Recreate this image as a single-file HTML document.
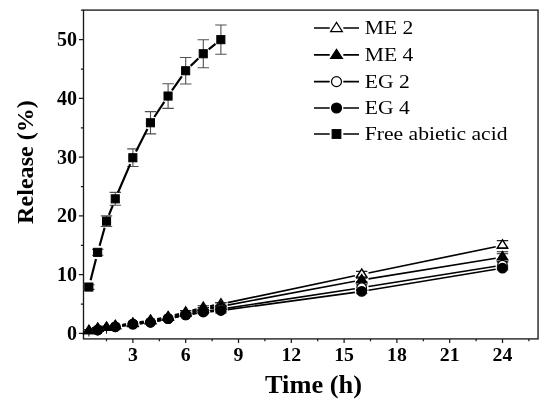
<!DOCTYPE html>
<html><head><meta charset="utf-8"><title>Release</title>
<style>
html,body{margin:0;padding:0;background:#fff;}
body{width:550px;height:403px;overflow:hidden;}
svg{display:block;}
text{font-family:"Liberation Serif",serif;fill:#000;}
.b{font-weight:bold;}
</style></head><body>
<svg width="550" height="403" viewBox="0 0 550 403">
<rect width="550" height="403" fill="#fff"/>

<rect x="83.5" y="10.1" width="454.55" height="328.80" fill="none" stroke="#1a1a1a" stroke-width="1.35"/>
<path d="M83.5 333.4h-4.6 M83.5 304.1h-2.6 M83.5 274.7h-4.6 M83.5 245.3h-2.6 M83.5 215.9h-4.6 M83.5 186.5h-2.6 M83.5 157.1h-4.6 M83.5 127.8h-2.6 M83.5 98.4h-4.6 M83.5 69.0h-2.6 M83.5 39.6h-4.6 M83.5 10.2h-2.6 M106.5 338.9v2.4 M132.9 338.9v4.2 M159.3 338.9v2.4 M185.7 338.9v4.2 M212.1 338.9v2.4 M238.5 338.9v4.2 M264.9 338.9v2.4 M291.3 338.9v4.2 M317.7 338.9v2.4 M344.1 338.9v4.2 M370.5 338.9v2.4 M396.9 338.9v4.2 M423.3 338.9v2.4 M449.7 338.9v4.2 M476.1 338.9v2.4 M502.5 338.9v4.2 M528.9 338.9v2.4" stroke="#1a1a1a" stroke-width="1.25" fill="none"/>
<text class="b" x="76.9" y="339.9" font-size="20.0" text-anchor="end">0</text>
<text class="b" x="76.9" y="281.2" font-size="20.0" text-anchor="end">10</text>
<text class="b" x="76.9" y="222.4" font-size="20.0" text-anchor="end">20</text>
<text class="b" x="76.9" y="163.6" font-size="20.0" text-anchor="end">30</text>
<text class="b" x="76.9" y="104.9" font-size="20.0" text-anchor="end">40</text>
<text class="b" x="76.9" y="46.1" font-size="20.0" text-anchor="end">50</text>
<text class="b" x="132.9" y="360.75" font-size="19.8" text-anchor="middle">3</text>
<text class="b" x="185.7" y="360.75" font-size="19.8" text-anchor="middle">6</text>
<text class="b" x="238.5" y="360.75" font-size="19.8" text-anchor="middle">9</text>
<text class="b" x="291.3" y="360.75" font-size="19.8" text-anchor="middle">12</text>
<text class="b" x="344.1" y="360.75" font-size="19.8" text-anchor="middle">15</text>
<text class="b" x="396.9" y="360.75" font-size="19.8" text-anchor="middle">18</text>
<text class="b" x="449.7" y="360.75" font-size="19.8" text-anchor="middle">21</text>
<text class="b" x="502.5" y="360.75" font-size="19.8" text-anchor="middle">24</text>
<text class="b" x="313.5" y="392.5" font-size="24.5" text-anchor="middle" textLength="97" lengthAdjust="spacingAndGlyphs">Time (h)</text>
<text class="b" transform="translate(32.5 162) rotate(-90)" font-size="24.1" text-anchor="middle">Release (%)</text>
<path d="M88.9 331V336.6M106.5 330V333.8M496.8 253.8h11.4" stroke="#222" stroke-width="1.1"/>
<path d="M88.9 329.7V332.0M83.2 329.7h11.4M83.2 332.0h11.4 M97.7 327.5V329.8M92.0 327.5h11.4M92.0 329.8h11.4 M106.5 326.4V328.7M100.8 326.4h11.4M100.8 328.7h11.4 M185.7 310.5V314.1M180.0 310.5h11.4M180.0 314.1h11.4 M203.3 305.7V309.2M197.6 305.7h11.4M197.6 309.2h11.4 M220.9 302.8V305.4M215.2 302.8h11.4M215.2 305.4h11.4 M361.7 271.4V277.3M356.0 271.4h11.4M356.0 277.3h11.4 M502.5 240.6V248.5M496.8 240.6h11.4M496.8 248.5h11.4" stroke="#222" stroke-width="1.1" fill="none"/>
<path d="M122.1 325.0L126.1 324.4 M139.7 322.3L143.7 321.6 M157.3 319.0L161.3 318.2 M174.8 315.1L179.0 314.0 M192.4 310.5L196.6 309.3 M210.1 306.2L214.1 305.4" stroke="#000" stroke-width="2.15" fill="none"/>
<path d="M227.7 302.6L354.9 275.8 M368.5 273.0L495.7 246.7" stroke="#000" stroke-width="1.65" fill="none"/>
<path d="M88.9 325.5L94.1 333.6H83.7Z" fill="#fff" stroke="#000" stroke-width="1.4" stroke-linejoin="miter"/>
<path d="M97.7 323.2L102.9 331.3H92.5Z" fill="#fff" stroke="#000" stroke-width="1.4" stroke-linejoin="miter"/>
<path d="M106.5 322.2L111.7 330.3H101.3Z" fill="#fff" stroke="#000" stroke-width="1.4" stroke-linejoin="miter"/>
<path d="M115.3 320.5L120.5 328.6H110.1Z" fill="#fff" stroke="#000" stroke-width="1.4" stroke-linejoin="miter"/>
<path d="M132.9 318.1L138.1 326.2H127.7Z" fill="#fff" stroke="#000" stroke-width="1.4" stroke-linejoin="miter"/>
<path d="M150.5 315.0L155.7 323.1H145.3Z" fill="#fff" stroke="#000" stroke-width="1.4" stroke-linejoin="miter"/>
<path d="M168.1 311.5L173.3 319.6H162.9Z" fill="#fff" stroke="#000" stroke-width="1.4" stroke-linejoin="miter"/>
<path d="M185.7 306.9L190.9 315.0H180.5Z" fill="#fff" stroke="#000" stroke-width="1.4" stroke-linejoin="miter"/>
<path d="M203.3 302.1L208.5 310.2H198.1Z" fill="#fff" stroke="#000" stroke-width="1.4" stroke-linejoin="miter"/>
<path d="M220.9 298.7L226.1 306.8H215.7Z" fill="#fff" stroke="#000" stroke-width="1.4" stroke-linejoin="miter"/>
<path d="M361.7 269.0L366.9 277.1H356.5Z" fill="#fff" stroke="#000" stroke-width="1.4" stroke-linejoin="miter"/>
<path d="M502.5 239.9L507.7 248.0H497.3Z" fill="#fff" stroke="#000" stroke-width="1.4" stroke-linejoin="miter"/>
<path d="M88.9 329.7V332.0M83.2 329.7h11.4M83.2 332.0h11.4 M97.7 327.5V329.8M92.0 327.5h11.4M92.0 329.8h11.4 M106.5 326.4V328.7M100.8 326.4h11.4M100.8 328.7h11.4 M185.7 312.0V314.9M180.0 312.0h11.4M180.0 314.9h11.4 M203.3 307.6V311.1M197.6 307.6h11.4M197.6 311.1h11.4 M220.9 302.7V310.1M215.2 302.7h11.4M215.2 310.1h11.4 M361.7 278.2V281.7M356.0 278.2h11.4M356.0 281.7h11.4 M502.5 251.8V261.5M496.8 251.8h11.4M496.8 261.5h11.4" stroke="#222" stroke-width="1.1" fill="none"/>
<path d="M122.1 325.1L126.1 324.6 M139.7 322.7L143.7 322.1 M157.3 319.7L161.3 318.9 M174.8 316.0L179.0 315.0 M192.4 311.9L196.6 310.9 M210.1 308.2L214.1 307.6" stroke="#000" stroke-width="2.15" fill="none"/>
<path d="M227.7 305.1L354.9 281.2 M368.5 278.9L495.7 258.2" stroke="#000" stroke-width="1.65" fill="none"/>
<path d="M88.9 325.5L94.1 333.6H83.7Z" fill="#000" stroke="#000" stroke-width="1.4" stroke-linejoin="miter"/>
<path d="M97.7 323.2L102.9 331.3H92.5Z" fill="#000" stroke="#000" stroke-width="1.4" stroke-linejoin="miter"/>
<path d="M106.5 322.2L111.7 330.3H101.3Z" fill="#000" stroke="#000" stroke-width="1.4" stroke-linejoin="miter"/>
<path d="M115.3 320.5L120.5 328.6H110.1Z" fill="#000" stroke="#000" stroke-width="1.4" stroke-linejoin="miter"/>
<path d="M132.9 318.4L138.1 326.5H127.7Z" fill="#000" stroke="#000" stroke-width="1.4" stroke-linejoin="miter"/>
<path d="M150.5 315.6L155.7 323.7H145.3Z" fill="#000" stroke="#000" stroke-width="1.4" stroke-linejoin="miter"/>
<path d="M168.1 312.2L173.3 320.3H162.9Z" fill="#000" stroke="#000" stroke-width="1.4" stroke-linejoin="miter"/>
<path d="M185.7 308.1L190.9 316.2H180.5Z" fill="#000" stroke="#000" stroke-width="1.4" stroke-linejoin="miter"/>
<path d="M203.3 304.0L208.5 312.1H198.1Z" fill="#000" stroke="#000" stroke-width="1.4" stroke-linejoin="miter"/>
<path d="M220.9 301.0L226.1 309.1H215.7Z" fill="#000" stroke="#000" stroke-width="1.4" stroke-linejoin="miter"/>
<path d="M361.7 274.6L366.9 282.7H356.5Z" fill="#000" stroke="#000" stroke-width="1.4" stroke-linejoin="miter"/>
<path d="M502.5 251.6L507.7 259.7H497.3Z" fill="#000" stroke="#000" stroke-width="1.4" stroke-linejoin="miter"/>
<path d="M97.7 328.9V331.2M92.0 328.9h11.4M92.0 331.2h11.4 M185.7 313.4V316.3M180.0 313.4h11.4M180.0 316.3h11.4 M203.3 309.9V313.5M197.6 309.9h11.4M197.6 313.5h11.4 M220.9 306.8V311.5M215.2 306.8h11.4M215.2 311.5h11.4 M361.7 284.7V290.5M356.0 284.7h11.4M356.0 290.5h11.4 M502.5 262.2V268.1M496.8 262.2h11.4M496.8 268.1h11.4" stroke="#222" stroke-width="1.1" fill="none"/>
<path d="M104.5 328.8L108.5 328.0 M122.1 325.7L126.1 325.1 M139.8 323.4L143.6 323.0 M157.3 320.9L161.3 320.0 M174.8 317.2L179.0 316.3 M192.5 313.7L196.5 312.9 M210.1 310.7L214.1 310.2" stroke="#000" stroke-width="2.15" fill="none"/>
<path d="M227.7 308.1L354.9 288.7 M368.5 286.5L495.7 266.2" stroke="#000" stroke-width="1.65" fill="none"/>
<circle cx="97.7" cy="330.0" r="4.8" fill="#fff" stroke="#000" stroke-width="1.2"/>
<circle cx="115.3" cy="326.8" r="4.8" fill="#fff" stroke="#000" stroke-width="1.2"/>
<circle cx="132.9" cy="324.1" r="4.8" fill="#fff" stroke="#000" stroke-width="1.2"/>
<circle cx="150.5" cy="322.3" r="4.8" fill="#fff" stroke="#000" stroke-width="1.2"/>
<circle cx="168.1" cy="318.6" r="4.8" fill="#fff" stroke="#000" stroke-width="1.2"/>
<circle cx="185.7" cy="314.9" r="4.8" fill="#fff" stroke="#000" stroke-width="1.2"/>
<circle cx="203.3" cy="311.7" r="4.8" fill="#fff" stroke="#000" stroke-width="1.2"/>
<circle cx="220.9" cy="309.2" r="4.8" fill="#fff" stroke="#000" stroke-width="1.2"/>
<circle cx="361.7" cy="287.6" r="4.8" fill="#fff" stroke="#000" stroke-width="1.2"/>
<circle cx="502.5" cy="265.2" r="4.8" fill="#fff" stroke="#000" stroke-width="1.2"/>
<path d="M97.7 328.9V331.2M92.0 328.9h11.4M92.0 331.2h11.4 M185.7 313.4V316.3M180.0 313.4h11.4M180.0 316.3h11.4 M203.3 310.2V313.8M197.6 310.2h11.4M197.6 313.8h11.4 M220.9 308.2V312.9M215.2 308.2h11.4M215.2 312.9h11.4 M361.7 289.7V293.2M356.0 289.7h11.4M356.0 293.2h11.4 M502.5 266.3V269.9M496.8 266.3h11.4M496.8 269.9h11.4" stroke="#222" stroke-width="1.1" fill="none"/>
<path d="M104.5 328.8L108.5 328.0 M122.1 325.7L126.1 325.1 M139.8 323.4L143.6 323.0 M157.3 320.9L161.3 320.0 M174.8 317.2L179.0 316.3 M192.5 313.8L196.5 313.1 M210.2 311.4L214.0 311.1" stroke="#000" stroke-width="2.15" fill="none"/>
<path d="M227.7 309.6L354.9 292.4 M368.5 290.3L495.7 269.2" stroke="#000" stroke-width="1.65" fill="none"/>
<circle cx="97.7" cy="330.0" r="4.8" fill="#000" stroke="#000" stroke-width="1.2"/>
<circle cx="115.3" cy="326.8" r="4.8" fill="#000" stroke="#000" stroke-width="1.2"/>
<circle cx="132.9" cy="324.1" r="4.8" fill="#000" stroke="#000" stroke-width="1.2"/>
<circle cx="150.5" cy="322.3" r="4.8" fill="#000" stroke="#000" stroke-width="1.2"/>
<circle cx="168.1" cy="318.6" r="4.8" fill="#000" stroke="#000" stroke-width="1.2"/>
<circle cx="185.7" cy="314.9" r="4.8" fill="#000" stroke="#000" stroke-width="1.2"/>
<circle cx="203.3" cy="312.0" r="4.8" fill="#000" stroke="#000" stroke-width="1.2"/>
<circle cx="220.9" cy="310.5" r="4.8" fill="#000" stroke="#000" stroke-width="1.2"/>
<circle cx="361.7" cy="291.4" r="4.8" fill="#000" stroke="#000" stroke-width="1.2"/>
<circle cx="502.5" cy="268.1" r="4.8" fill="#000" stroke="#000" stroke-width="1.2"/>
<path d="M88.9 284.7V289.4M83.2 284.7h11.4M83.2 289.4h11.4 M97.7 249.4V255.3M92.0 249.4h11.4M92.0 255.3h11.4 M106.5 215.9V226.5M100.8 215.9h11.4M100.8 226.5h11.4 M115.3 192.4V205.3M109.6 192.4h11.4M109.6 205.3h11.4 M132.9 148.9V166.5M127.2 148.9h11.4M127.2 166.5h11.4 M150.5 111.6V133.9M144.8 111.6h11.4M144.8 133.9h11.4 M168.1 83.7V108.4M162.4 83.7h11.4M162.4 108.4h11.4 M185.7 57.5V84.0M180.0 57.5h11.4M180.0 84.0h11.4 M203.3 39.7V67.7M197.6 39.7h11.4M197.6 67.7h11.4 M220.9 25.0V54.2M215.2 25.0h11.4M215.2 54.2h11.4" stroke="#505050" stroke-width="1.1" fill="none"/>
<path d="M90.6 280.3L96.0 259.0 M99.6 245.7L104.6 227.8 M109.0 214.8L112.8 205.3 M118.0 192.5L130.2 164.1 M136.0 151.6L147.4 128.9 M154.3 117.0L164.3 101.8 M172.0 90.4L181.8 76.4 M190.7 65.9L198.3 58.5 M208.7 49.4L215.5 43.9" stroke="#000" stroke-width="2.2" fill="none"/>
<rect x="84.8" y="283.0" width="8.1" height="8.1" fill="#000" stroke="#000" stroke-width="1"/>
<rect x="93.6" y="248.3" width="8.1" height="8.1" fill="#000" stroke="#000" stroke-width="1"/>
<rect x="102.5" y="217.1" width="8.1" height="8.1" fill="#000" stroke="#000" stroke-width="1"/>
<rect x="111.2" y="194.8" width="8.1" height="8.1" fill="#000" stroke="#000" stroke-width="1"/>
<rect x="128.8" y="153.7" width="8.1" height="8.1" fill="#000" stroke="#000" stroke-width="1"/>
<rect x="146.4" y="118.7" width="8.1" height="8.1" fill="#000" stroke="#000" stroke-width="1"/>
<rect x="164.0" y="92.0" width="8.1" height="8.1" fill="#000" stroke="#000" stroke-width="1"/>
<rect x="181.6" y="66.7" width="8.1" height="8.1" fill="#000" stroke="#000" stroke-width="1"/>
<rect x="199.2" y="49.7" width="8.1" height="8.1" fill="#000" stroke="#000" stroke-width="1"/>
<rect x="216.8" y="35.6" width="8.1" height="8.1" fill="#000" stroke="#000" stroke-width="1"/>
<path d="M314 28H329.7M343.3 28H359" stroke="#000" stroke-width="1.6"/>
<path d="M336.5 22.4L342.4 31.6H330.6Z" fill="#fff" stroke="#000" stroke-width="1.2" stroke-linejoin="miter"/>
<text transform="translate(364.8 34.3) scale(1.097 1)" font-size="19.7">ME 2</text>
<path d="M314 54.9H329.7M343.3 54.9H359" stroke="#000" stroke-width="1.6"/>
<path d="M336.5 49.3L342.4 58.5H330.6Z" fill="#000" stroke="#000" stroke-width="1.2" stroke-linejoin="miter"/>
<text transform="translate(364.8 61.2) scale(1.097 1)" font-size="19.7">ME 4</text>
<path d="M314 81.6H329.7M343.3 81.6H359" stroke="#000" stroke-width="1.6"/>
<circle cx="336.5" cy="81.6" r="5.0" fill="#fff" stroke="#000" stroke-width="1.2"/>
<text transform="translate(364.8 87.9) scale(1.097 1)" font-size="19.7">EG 2</text>
<path d="M314 108.0H329.7M343.3 108.0H359" stroke="#000" stroke-width="1.6"/>
<circle cx="336.5" cy="108.0" r="5.0" fill="#000" stroke="#000" stroke-width="1.2"/>
<text transform="translate(364.8 114.3) scale(1.097 1)" font-size="19.7">EG 4</text>
<path d="M314 134.0H329.7M343.3 134.0H359" stroke="#000" stroke-width="1.6"/>
<rect x="332.1" y="129.6" width="8.8" height="8.8" fill="#000" stroke="#000" stroke-width="1"/>
<text transform="translate(364.8 140.3) scale(1.097 1)" font-size="19.7">Free abietic acid</text>
</svg></body></html>
